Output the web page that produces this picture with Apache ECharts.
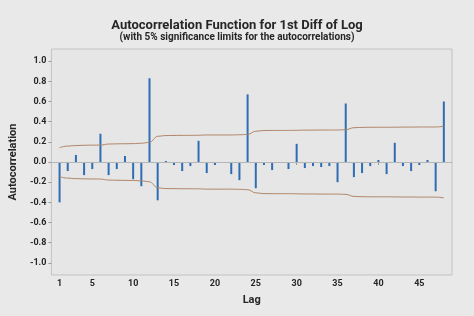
<!DOCTYPE html>
<html>
<head>
    <meta charset="utf-8">
    <title>ACF</title>
    <script src="https://cdn.jsdelivr.net/npm/echarts@6/dist/echarts.min.js"></script>
    <style>
        html, body { margin: 0; padding: 0; background: #e9e9e9; }
        #main { width: 474px; height: 316px; }
    </style>
</head>
<body>
<div id="main"></div>
<script type="text/javascript">
    // lag numbers
    var lags = [1, 2, 3, 4, 5, 6, 7, 8, 9, 10, 11, 12, 13, 14, 15, 16, 17, 18, 19, 20, 21, 22, 23, 24,
        25, 26, 27, 28, 29, 30, 31, 32, 33, 34, 35, 36, 37, 38, 39, 40, 41, 42, 43, 44, 45, 46, 47, 48];
    // autocorrelation at each lag
    var acf = [-0.40, -0.09, 0.07, -0.13, -0.07, 0.28, -0.13, -0.07, 0.06, -0.17, -0.24, 0.83,
        -0.38, 0.01, -0.03, -0.09, -0.04, 0.21, -0.11, -0.03, -0.01, -0.12, -0.18, 0.67,
        -0.26, -0.03, -0.08, -0.01, -0.07, 0.18, -0.06, -0.04, -0.05, -0.04, -0.20, 0.58,
        -0.15, -0.11, -0.04, 0.02, -0.12, 0.19, -0.04, -0.09, -0.03, 0.02, -0.29, 0.60];
    // 5% significance limits
    var upper = [0.142, 0.158, 0.163, 0.166, 0.167, 0.168, 0.178, 0.180, 0.181, 0.182, 0.186, 0.195,
        0.255, 0.262, 0.263, 0.264, 0.264, 0.265, 0.268, 0.268, 0.268, 0.268, 0.270, 0.273,
        0.305, 0.312, 0.313, 0.313, 0.313, 0.314, 0.316, 0.316, 0.317, 0.317, 0.317, 0.320,
        0.340, 0.343, 0.344, 0.344, 0.344, 0.345, 0.346, 0.346, 0.347, 0.347, 0.347, 0.355];
    var lower = [-0.145, -0.160, -0.165, -0.167, -0.168, -0.169, -0.179, -0.181, -0.182, -0.183, -0.187, -0.196,
        -0.256, -0.263, -0.264, -0.265, -0.265, -0.266, -0.269, -0.269, -0.269, -0.269, -0.271, -0.274,
        -0.306, -0.313, -0.314, -0.314, -0.314, -0.315, -0.317, -0.317, -0.318, -0.318, -0.318, -0.321,
        -0.341, -0.344, -0.345, -0.345, -0.345, -0.346, -0.347, -0.347, -0.348, -0.348, -0.348, -0.356];
    // tick labels
    var xTicks = [1, 5, 10, 15, 20, 25, 30, 35, 40, 45];
    var yTicks = [-1.0, -0.8, -0.6, -0.4, -0.2, 0.0, 0.2, 0.4, 0.6, 0.8, 1.0];

    var font = 'Roboto, sans-serif';
    var txt = '#262626';

    function pairs(ys) {
        return lags.map(function (l, i) { return [l, ys[i]]; });
    }

    var myChart = echarts.init(document.getElementById('main'), null, {renderer: 'canvas'});
    myChart.setOption({
        backgroundColor: '#e9e9e9',
        animation: false,
        title: {
            text: 'Autocorrelation Function for 1st Diff of Log',
            subtext: '(with 5% significance limits for the autocorrelations)',
            left: 'center',
            top: 14,
            itemGap: 0,
            textStyle: {fontFamily: font, fontSize: 13, fontWeight: 'bold', color: txt},
            subtextStyle: {fontFamily: font, fontSize: 10, fontWeight: 'bold', color: txt}
        },
        grid: {
            left: 50, right: 22, top: 49, bottom: 41,
            show: true, backgroundColor: '#e6e6e6', borderColor: '#c2c2c2', borderWidth: 1
        },
        xAxis: {
            type: 'value', min: 0, max: 49,
            name: 'Lag', nameLocation: 'middle', nameGap: 20,
            nameTextStyle: {fontFamily: font, fontSize: 11, fontWeight: 'bold', color: txt},
            axisLine: {show: false},
            axisTick: {show: true, length: 3, customValues: xTicks, lineStyle: {color: '#9a9a9a'}},
            axisLabel: {customValues: xTicks, margin: 4, fontFamily: font, fontSize: 9, fontWeight: 'bold', color: txt},
            splitLine: {show: false}
        },
        yAxis: {
            type: 'value', min: -1.12, max: 1.12,
            name: 'Autocorrelation', nameLocation: 'middle', nameGap: 30, nameRotate: 90,
            nameTextStyle: {fontFamily: font, fontSize: 11, fontWeight: 'bold', color: txt},
            axisLine: {show: false},
            axisTick: {show: true, length: 3, customValues: yTicks, lineStyle: {color: '#9a9a9a'}},
            axisLabel: {
                customValues: yTicks, margin: 5, fontFamily: font, fontSize: 9, fontWeight: 'bold', color: txt,
                formatter: function (v) { return v.toFixed(1); }
            },
            splitLine: {show: false}
        },
        series: [
            {
                type: 'bar',
                data: pairs(acf),
                barWidth: 2,
                itemStyle: {color: '#2e6db4'},
                markLine: {
                    silent: true, symbol: 'none', label: {show: false},
                    lineStyle: {color: '#b5b5b5', width: 1, type: 'solid'},
                    data: [{yAxis: 0}]
                }
            },
            {
                type: 'line', data: pairs(upper), showSymbol: false, smooth: 0.4, smoothMonotone: 'x',
                lineStyle: {color: '#b08466', width: 1}
            },
            {
                type: 'line', data: pairs(lower), showSymbol: false, smooth: 0.4, smoothMonotone: 'x',
                lineStyle: {color: '#b08466', width: 1}
            }
        ]
    });
</script>
</body>
</html>
